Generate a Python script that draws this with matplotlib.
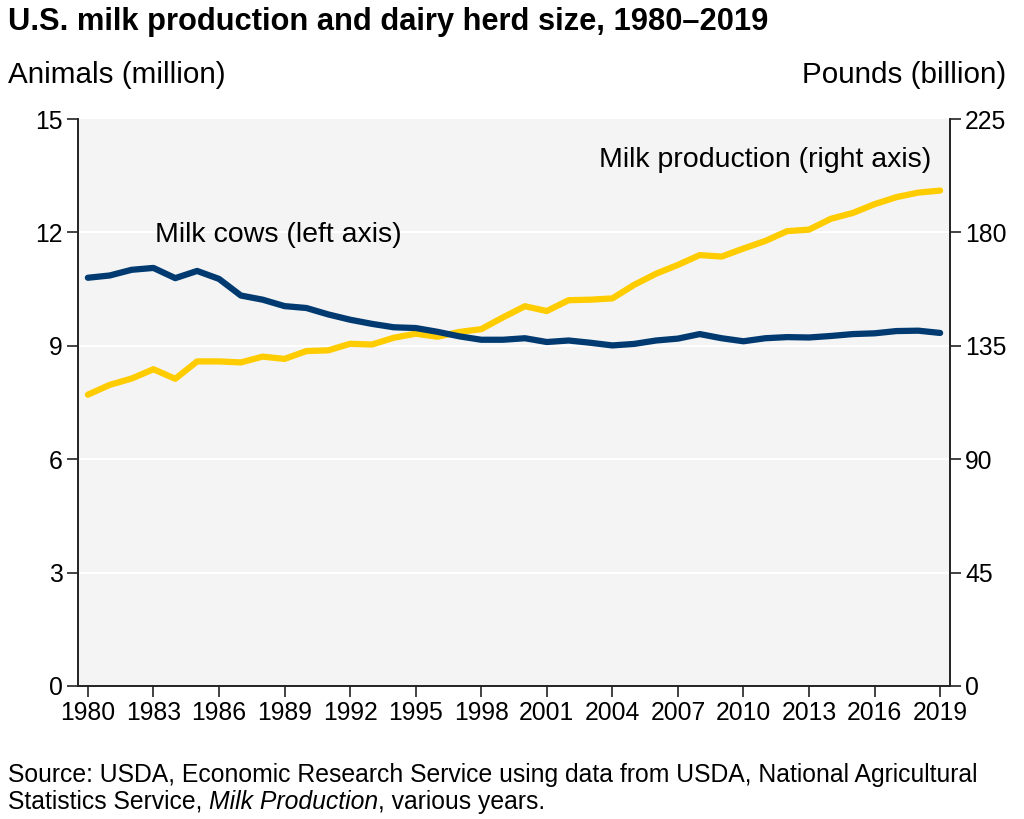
import matplotlib.pyplot as plt
import numpy as np

plt.rcParams['font.family'] = ['Liberation Sans', 'DejaVu Sans']

# ── Data ──────────────────────────────────────────────────────────────────────
years = list(range(1980, 2020))
cows = [10.80, 10.86, 11.01, 11.06, 10.79, 10.98, 10.77, 10.33, 10.22, 10.05,
        10.00, 9.83, 9.69, 9.58, 9.49, 9.47, 9.37, 9.25, 9.16, 9.16,
        9.20, 9.10, 9.14, 9.08, 9.01, 9.05, 9.14, 9.19, 9.31, 9.20,
        9.12, 9.20, 9.23, 9.22, 9.26, 9.31, 9.33, 9.39, 9.40, 9.34]
milk = [115.6, 119.5, 122.0, 125.7, 121.9, 128.8, 128.8, 128.4, 130.7, 129.8,
        132.9, 133.2, 135.8, 135.5, 138.2, 139.8, 138.6, 140.5, 141.6, 146.3,
        150.7, 148.8, 153.1, 153.3, 153.8, 159.2, 163.6, 167.1, 171.0, 170.4,
        173.6, 176.6, 180.5, 181.1, 185.4, 187.7, 191.2, 194.0, 195.8, 196.6]
left_ticks = [0, 3, 6, 9, 12, 15]
right_ticks = [0, 45, 90, 135, 180, 225]
year_ticks = list(range(1980, 2020, 3))

navy = "#003A70"
gold = "#FFCC00"

fig = plt.figure(figsize=(10.24, 8.19), dpi=100)
ax = fig.add_axes([0.0762, 0.1624, 0.8515, 0.6923])
ax2 = ax.twinx()

ax.set_facecolor("#F4F4F4")
ax.set_zorder(1)
ax2.set_zorder(2)

for t in left_ticks[1:-1]:
    ax.axhline(t, color="white", lw=1.5, zorder=0)

ax2.plot(years, milk, color=gold, lw=4.5, solid_capstyle="round", zorder=3)
ax2.plot(years, np.array(cows) * 15, color=navy, lw=4.5, solid_capstyle="round", zorder=4)

ax.set_ylim(0, 15)
ax2.set_ylim(0, 225)
ax.set_xlim(1979.55, 2019.45)
ax.set_yticks(left_ticks)
ax2.set_yticks(right_ticks)
ax.set_xticks(year_ticks)

for a in (ax, ax2):
    a.spines["top"].set_visible(False)
    for s in ("left", "right", "bottom"):
        a.spines[s].set_color("#222222")
        a.spines[s].set_linewidth(1.2)
    a.tick_params(axis="both", direction="out", length=8, width=1.2,
                  color="#222222", labelsize=17.8, pad=3)

ax2.text(2018.6, 208.7, "Milk production (right axis)", fontsize=20.5,
         ha="right", va="center", zorder=5)
ax2.text(1983.05, 11.93 * 15, "Milk cows (left axis)", fontsize=20.5,
         ha="left", va="center", zorder=5)

fig.text(8 / 1024, 1 - 22 / 819, "U.S. milk production and dairy herd size, 1980\u20132019",
         fontsize=22.2, fontweight="bold", ha="left", va="center")
fig.text(8 / 1024, 1 - 75 / 819, "Animals (million)", fontsize=21.3, ha="left", va="center")
fig.text(1006 / 1024, 1 - 75 / 819, "Pounds (billion)", fontsize=21.3, ha="right", va="center")

fig.text(8 / 1024, 1 - 775 / 819,
         "Source: USDA, Economic Research Service using data from USDA, National Agricultural",
         fontsize=17.8, ha="left", va="center")

# second source line with italic title
r = fig.canvas.get_renderer()
x = 8 / 1024
for txt, style in [("Statistics Service, ", "normal"), ("Milk Production", "italic"),
                   (", various years.", "normal")]:
    t = fig.text(x, 1 - 802 / 819, txt, fontsize=17.8, ha="left", va="center", style=style)
    bb = t.get_window_extent(renderer=r)
    x += bb.width / fig.bbox.width

fig.savefig("out.png", dpi=100)
